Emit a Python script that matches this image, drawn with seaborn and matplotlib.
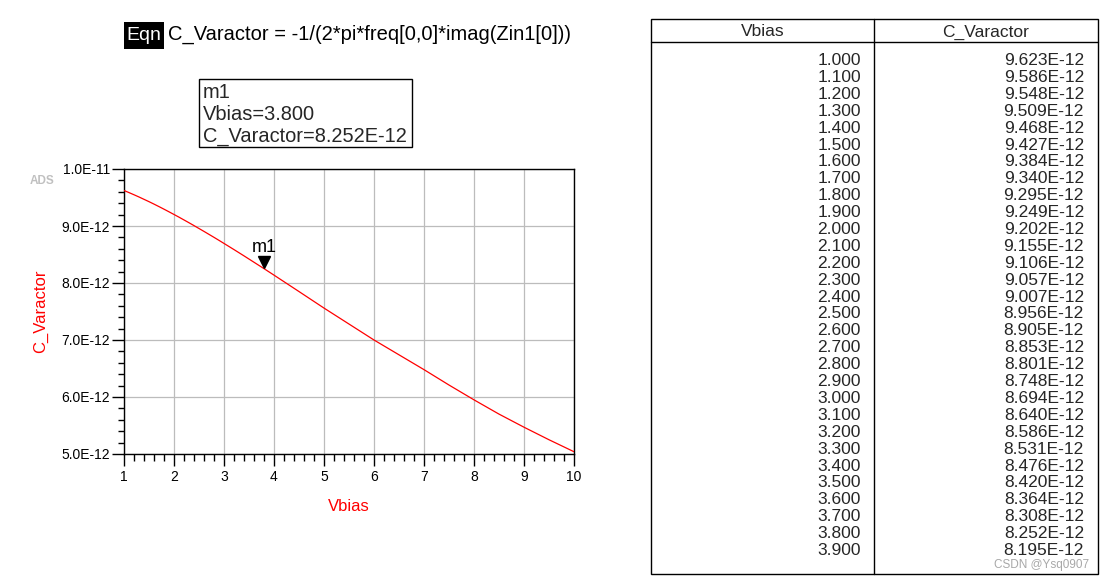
import numpy as np
import pandas as pd
import matplotlib
matplotlib.use("Agg")
import matplotlib.pyplot as plt
import matplotlib.transforms as mtransforms
from matplotlib.lines import Line2D
from matplotlib.patches import Rectangle
from matplotlib.ticker import MultipleLocator, FuncFormatter
import seaborn as sns

# ---------------- data ----------------
vbias_table = [1.0, 1.1, 1.2, 1.3, 1.4, 1.5, 1.6, 1.7, 1.8, 1.9,
               2.0, 2.1, 2.2, 2.3, 2.4, 2.5, 2.6, 2.7, 2.8, 2.9,
               3.0, 3.1, 3.2, 3.3, 3.4, 3.5, 3.6, 3.7, 3.8, 3.9]
cvar_table_pF = [9.623, 9.586, 9.548, 9.509, 9.468, 9.427, 9.384, 9.340, 9.295, 9.249,
                 9.202, 9.155, 9.106, 9.057, 9.007, 8.956, 8.905, 8.853, 8.801, 8.748,
                 8.694, 8.640, 8.586, 8.531, 8.476, 8.420, 8.364, 8.308, 8.252, 8.195]
vbias_ext = [4.0, 4.5, 5.0, 5.5, 6.0, 6.5, 7.0, 7.5, 8.0, 8.5, 9.0, 9.5, 10.0]
cvar_ext_pF = [8.138, 7.85, 7.56, 7.28, 7.00, 6.74, 6.48, 6.21, 5.95, 5.70, 5.47, 5.25, 5.04]

marker_name = "m1"
marker_vbias = 3.8
marker_cvar_pF = 8.252

x_ticks = [1, 2, 3, 4, 5, 6, 7, 8, 9, 10]
y_ticks_pF = [5.0, 6.0, 7.0, 8.0, 9.0, 10.0]

equation = "C_Varactor = -1/(2*pi*freq[0,0]*imag(Zin1[0]))"

# ---------------- style ----------------
sns.set_style("ticks")
plt.rcParams['font.family'] = ['Liberation Sans', 'DejaVu Sans']

W, H = 1104, 582
fig = plt.figure(figsize=(W / 100, H / 100), dpi=100)
fig.patch.set_facecolor("white")


def fx(x):
    return x / W


def fy(y):
    return 1 - y / H


def frect(x0, y0, x1, y1, **kw):
    r = Rectangle((fx(x0), fy(y1)), (x1 - x0) / W, (y1 - y0) / H,
                  transform=fig.transFigure, **kw)
    fig.add_artist(r)
    return r


def fline(x0, y0, x1, y1, **kw):
    fig.add_artist(Line2D([fx(x0), fx(x1)], [fy(y0), fy(y1)],
                          transform=fig.transFigure, **kw))


# ---------------- plot ----------------
ax_l, ax_r, ax_t, ax_b = 124, 574, 169, 454
ax = fig.add_axes([fx(ax_l), fy(ax_b), (ax_r - ax_l) / W, (ax_b - ax_t) / H])

df = pd.DataFrame({
    "Vbias": vbias_table + vbias_ext,
    "C_Varactor": [v * 1e-12 for v in cvar_table_pF + cvar_ext_pF],
})
sns.lineplot(data=df, x="Vbias", y="C_Varactor", ax=ax, color="#ff0000",
             linewidth=0.9, zorder=3)

ax.set_xlim(x_ticks[0], x_ticks[-1])
ax.set_ylim(y_ticks_pF[0] * 1e-12, y_ticks_pF[-1] * 1e-12)
ax.set_xticks(x_ticks)
ax.set_yticks([v * 1e-12 for v in y_ticks_pF])
ax.xaxis.set_minor_locator(MultipleLocator(0.2))
ax.yaxis.set_minor_locator(MultipleLocator(0.2e-12))
ax.yaxis.set_major_formatter(FuncFormatter(lambda v, p: f"{v:.1E}"))
ax.xaxis.set_major_formatter(FuncFormatter(lambda v, p: f"{v:g}"))

ax.grid(True, which="major", color="#bcbcbc", linewidth=0.9)
for s in ax.spines.values():
    s.set_color("black")
    s.set_linewidth(1.0)
ax.tick_params(which="major", direction="out", length=8.6, width=1.0,
               labelsize=10, colors="black")
ax.tick_params(axis="y", which="major", pad=1.5)
ax.tick_params(axis="x", which="major", pad=3)
ax.tick_params(axis="x", which="minor", direction="out", length=5, width=1.0, colors="black")
ax.tick_params(axis="y", which="minor", direction="out", length=4, width=1.0, colors="black")

ax.set_xlabel("Vbias", color="#ff0000", fontsize=12)
ax.set_ylabel("C_Varactor", color="#ff0000", fontsize=12)
ax.xaxis.set_label_coords(0.5, -(499 - ax_b) / (ax_b - ax_t))
ax.yaxis.set_label_coords((48 - ax_l) / (ax_r - ax_l), 0.5)

# marker m1
mk_tr = mtransforms.offset_copy(ax.transData, fig=fig, x=0, y=7, units="dots")
ax.plot([marker_vbias], [marker_cvar_pF * 1e-12], marker="v", color="black",
        markersize=8, transform=mk_tr, zorder=5, clip_on=False)
ax.annotate(marker_name, xy=(marker_vbias, marker_cvar_pF * 1e-12),
            xytext=(0, 21.5), textcoords="offset pixels", ha="center", va="center",
            fontsize=13, color="black")

# ADS watermark
fig.text(fx(42), fy(181), "ADS", color="#c0c0c0", fontsize=8.5, fontweight="bold",
         ha="center", va="center")

# equation title
frect(124, 22, 164, 49, facecolor="black", edgecolor="none")
fig.text(fx(144), fy(35.5), "Eqn", color="white", fontsize=14, ha="center", va="center")
fig.text(fx(168), fy(34), equation, color="black", fontsize=14.5, ha="left", va="center")

# marker readout box
frect(199, 79, 412, 147, facecolor="none", edgecolor="black", linewidth=1)
readout = [marker_name,
           f"Vbias={marker_vbias:.3f}",
           f"C_Varactor={marker_cvar_pF * 1e-12:.3E}"]
for i, t in enumerate(readout):
    fig.text(fx(203), fy(93 + i * 21.5), t, fontsize=14.4, ha="left", va="center")

# ---------------- table ----------------
tl, tr, tt, tb = 651, 1098, 19, 574
tmid = 874
frect(tl, tt, tr, tb, facecolor="none", edgecolor="black", linewidth=1)
fline(tl, 42, tr, 42, color="black", linewidth=1)
fline(tmid, tt, tmid, tb, color="black", linewidth=1)
fig.text(fx(763), fy(32), "Vbias", fontsize=12.5, ha="center", va="center")
fig.text(fx(986), fy(32), "C_Varactor", fontsize=12.5, ha="center", va="center")
for i, (v, c) in enumerate(zip(vbias_table, cvar_table_pF)):
    yy = 60.5 + i * 16.9
    fig.text(fx(861), fy(yy), f"{v:.3f}", fontsize=12.5, ha="right", va="center")
    fig.text(fx(1084), fy(yy), f"{c * 1e-12:.3E}", fontsize=12.5, ha="right", va="center")

fig.text(fx(1089), fy(565), "CSDN @Ysq0907", color="#a8a8a8", fontsize=8.5,
         ha="right", va="center")

fig.savefig("out.png", dpi=100)
